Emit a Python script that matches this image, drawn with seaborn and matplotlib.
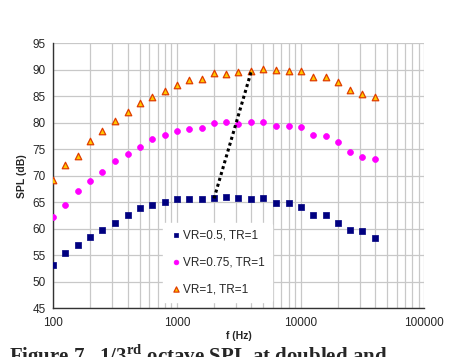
"""
1/3 octave SPL spectra for three velocity ratios (recreated figure).
"""
import numpy as np
import pandas as pd
import matplotlib
matplotlib.use("Agg")
import matplotlib.pyplot as plt
import seaborn as sns
from matplotlib.ticker import LogLocator, FixedLocator, NullFormatter, FuncFormatter

# Data
freq = [100, 125, 160, 200, 250, 315, 400, 500, 630, 800, 1000, 1250, 1600,
        2000, 2500, 3150, 4000, 5000, 6300, 8000, 10000, 12500, 16000,
        20000, 25000, 31500, 40000]
spl_vr050 = [53.2, 55.4, 56.9, 58.4, 59.7, 61.0, 62.5, 63.9, 64.4, 65.0, 65.5,
             65.5, 65.5, 65.7, 66.0, 65.7, 65.6, 65.8, 64.9, 64.8, 64.1, 62.6,
             62.5, 61.0, 59.8, 59.6, 58.3]
spl_vr075 = [62.2, 64.4, 67.1, 69.0, 70.7, 72.8, 74.0, 75.5, 76.9, 77.7, 78.5,
             78.8, 78.9, 79.9, 80.1, 79.8, 80.1, 80.1, 79.4, 79.3, 79.1, 77.7,
             77.5, 76.4, 74.5, 73.5, 73.2]
spl_vr100 = [69.1, 72.1, 73.7, 76.6, 78.4, 80.4, 82.0, 83.7, 84.8, 86.0, 87.2,
             88.0, 88.3, 89.3, 89.1, 89.6, 89.7, 90.1, 90.0, 89.8, 89.8, 88.7,
             88.7, 87.7, 86.2, 85.5, 84.8]
labels = ["VR=0.5, TR=1", "VR=0.75, TR=1", "VR=1, TR=1"]
# peak shift indicator: blue peak at 2 kHz -> orange peak at 4 kHz
peak_freq = [2000, 4000]
peak_spl = [spl_vr050[freq.index(2000)], spl_vr100[freq.index(4000)]]

caption = r"Figure 7.  1/3$^{\mathbf{rd}}$ octave SPL at doubled and"

sns.set_theme(style="white")
plt.rcParams["font.family"] = ["Liberation Sans", "DejaVu Sans"]
plt.rcParams["mathtext.fontset"] = "custom"
plt.rcParams["mathtext.rm"] = "Liberation Serif"
plt.rcParams["mathtext.bf"] = "Liberation Serif:bold"

fig = plt.figure(figsize=(4.74, 3.57), dpi=100)
ax = fig.add_axes([0.112, 0.137, 0.783, 0.742])

df = pd.DataFrame({"f": freq, "VR0.5": spl_vr050, "VR0.75": spl_vr075, "VR1": spl_vr100})

sns.scatterplot(data=df, x="f", y="VR0.5", ax=ax, marker="s", s=18, color="#000080",
                edgecolor="#000080", linewidth=0.5, label=labels[0], zorder=3)
sns.scatterplot(data=df, x="f", y="VR0.75", ax=ax, marker="o", s=18, color="#FF00FF",
                edgecolor="#FF00FF", linewidth=0.5, label=labels[1], zorder=3)
sns.scatterplot(data=df, x="f", y="VR1", ax=ax, marker="^", s=22, color="#FFC800",
                edgecolor="#E03C00", linewidth=0.9, label=labels[2], zorder=3)
ax.plot(peak_freq, peak_spl, color="black", linestyle=(0, (1, 1)), linewidth=2.2, zorder=4)

ax.set_xscale("log")
ax.set_xlim(100, 100000)
ax.set_ylim(45, 95)
ax.yaxis.set_major_locator(FixedLocator(np.arange(45, 96, 5)))
ax.xaxis.set_major_locator(LogLocator(base=10))
ax.xaxis.set_minor_locator(LogLocator(base=10, subs=np.arange(2, 10)))
ax.xaxis.set_minor_formatter(NullFormatter())
ax.xaxis.set_major_formatter(FuncFormatter(lambda v, p: f"{int(v)}"))

ax.grid(True, which="both", axis="x", color="#c8c8c8", linewidth=0.9)
ax.grid(True, which="major", axis="y", color="#c8c8c8", linewidth=0.9)
ax.set_axisbelow(True)
for side in ["top", "right"]:
    ax.spines[side].set_visible(False)
for side in ["left", "bottom"]:
    ax.spines[side].set_color("#333333")
    ax.spines[side].set_linewidth(1.0)
ax.tick_params(axis="both", which="major", direction="inout", length=5, width=1,
               color="#333333", labelsize=8.5, pad=3)
ax.tick_params(axis="x", which="major", pad=4)
ax.tick_params(axis="x", which="minor", length=0)

ax.set_xlabel("f (Hz)", fontsize=7.5, fontweight="bold", labelpad=1)
ax.set_ylabel("SPL (dB)", fontsize=7.5, fontweight="bold", labelpad=4)

leg = ax.legend(loc="lower left", bbox_to_anchor=(0.28, 0.0), frameon=True,
                facecolor="white", edgecolor="white", framealpha=1.0, fontsize=8.5,
                labelspacing=1.25, handletextpad=0.1, handlelength=1.0,
                borderpad=0.6, markerscale=0.8)

fig.text(0.02, 1 - 342 / 357, caption, fontsize=15, fontweight="bold",
         family=["Liberation Serif", "DejaVu Serif"], va="top", ha="left")

fig.savefig("out.png", dpi=100)
